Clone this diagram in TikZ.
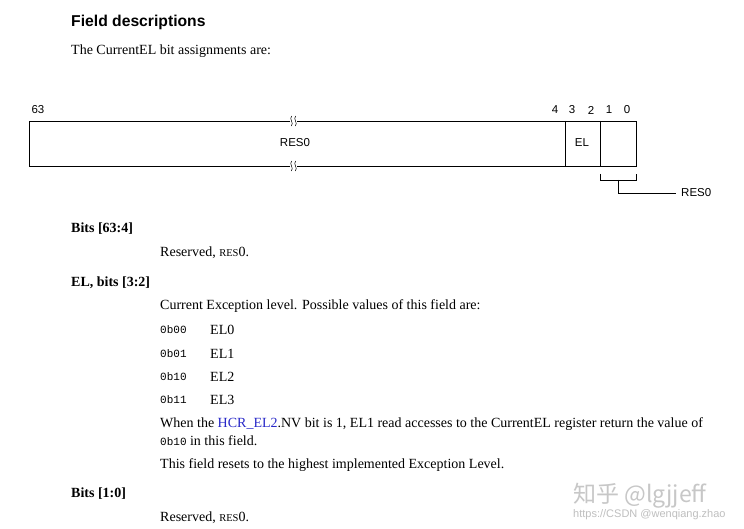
\documentclass[tikz,border=0pt]{standalone}
\usepackage{fontspec}
\setmainfont{Liberation Serif}
\setsansfont{Liberation Sans}
\setmonofont{Liberation Mono}
\begin{document}
\begin{tikzpicture}[x=1pt,y=-1pt,
  diag/.style={font=\sffamily\fontsize{11.5}{13}\selectfont,inner sep=0pt},
  body/.style={font=\fontsize{14}{16}\selectfont,anchor=west,inner sep=0pt},
  hd/.style={font=\bfseries\fontsize{14}{16}\selectfont,anchor=west,inner sep=0pt},
  code/.style={font=\ttfamily\fontsize{11}{13}\selectfont,anchor=west,inner sep=0pt},
  reg/.style={line width=0.9pt}]
\useasboundingbox[fill=white] (0,0) rectangle (744,529);
% register box
\draw[reg] (29,121) rectangle (636,166);
\draw[reg] (565,121) -- (565,166);
\draw[reg] (600,121) -- (600,166);
% break marks
\foreach \yy in {121,166}{
  \fill[white] (290,\yy-1.5) rectangle (297,\yy+1.5);
  \foreach \xx in {290.5,294.5}
    \draw[line width=0.5pt] (\xx+1.2,\yy-5) .. controls (\xx-2,\yy-2) and (\xx+4,\yy+2) .. (\xx+0.8,\yy+5);
}
\node[diag] (b63) at (38,110) {63};
\node[diag] (b4) at (555,110) {4};
\node[diag] (b3) at (572,110) {3};
\node[diag] (b2) at (591,110) {2};
\node[diag] (b1) at (609,110) {1};
\node[diag] (b0) at (627,110) {0};
\node[diag] (res0a) at (295,143) {RES0};
\node[diag] (el) at (582,143) {EL};
\coordinate (bl) at (600,174);
\coordinate (br) at (636,174);
\coordinate (bm) at (618,180);
\draw[reg] (bl) -- (600,180) -- (636,180) -- (br);
\node[diag,anchor=west] (res0b) at (681,193) {RES0};
\draw[reg] (bm) |- ([xshift=-5pt]res0b.west);
% text
\node[font=\sffamily\bfseries\fontsize{15.7}{18}\selectfont,anchor=west,inner sep=0pt] (title) at (71,22) {Field descriptions};
\node[body] (intro) at (71,51) {The CurrentEL bit assignments are:};
\node[hd] (h1) at (71,229) {Bits [63:4]};
\node[body] (r1) at (160,253) {Reserved, {\fontsize{10.5}{12}\selectfont RES}0.};
\node[hd] (h2) at (71,283) {EL, bits [3:2]};
\node[body] (cur) at (160,306) {Current Exception level. Possible values of this field are:};
\node[code] (c0) at (160,330) {0b00}; \node[body] (e0) at (210,330) {EL0};
\node[code] (c1) at (160,354) {0b01}; \node[body] (e1) at (210,354) {EL1};
\node[code] (c2) at (160,377) {0b10}; \node[body] (e2) at (210,377) {EL2};
\node[code] (c3) at (160,400) {0b11}; \node[body] (e3) at (210,400) {EL3};
\node[body] (when) at (160,424) {When the \textcolor[RGB]{40,40,200}{HCR\_EL2}.NV bit is 1, EL1 read accesses to the CurrentEL register return the value of};
\node[body] (when2) at (160,441) {\ttfamily\fontsize{11}{13}\selectfont 0b10\rmfamily\fontsize{14}{16}\selectfont{} in this field.};
\node[body] (reset) at (160,465) {This field resets to the highest implemented Exception Level.};
\node[hd] (h3) at (71,494) {Bits [1:0]};
\node[body] (r3) at (160,518) {Reserved, {\fontsize{10.5}{12}\selectfont RES}0.};
% watermark
\newfontfamily\cjk{Noto Sans CJK SC}
\node[font=\cjk\fontsize{23}{25}\selectfont,text=black!22,anchor=west,inner sep=0pt] (wm1) at (573,496) {知乎 @lgjjeff};
\node[font=\sffamily\fontsize{11}{12}\selectfont,text=black!25,anchor=west,inner sep=0pt] (wm2) at (573,515) {https://CSDN @wenqiang.zhao};
\end{tikzpicture}
\end{document}
